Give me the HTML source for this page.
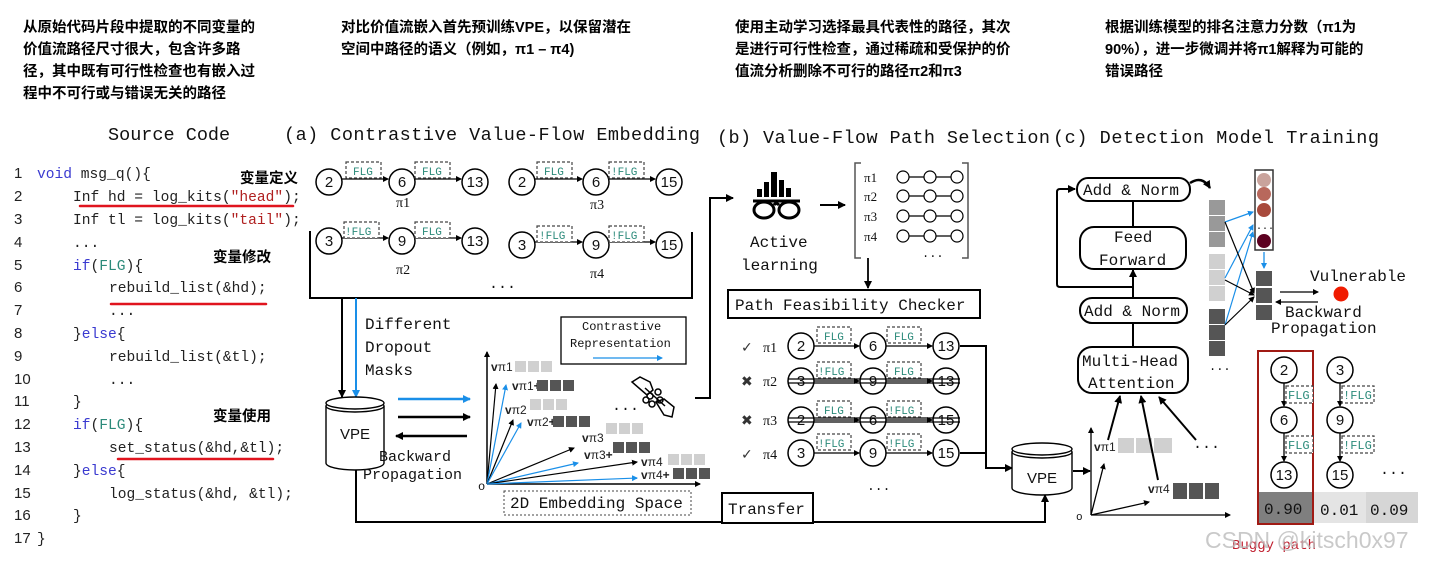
<!DOCTYPE html>
<html><head><meta charset="utf-8"><style>
html,body{margin:0;padding:0;background:#fff;}
svg{display:block;}
.cn{font-family:"Liberation Sans","Noto Sans CJK SC",sans-serif;font-size:14.5px;font-weight:bold;fill:#000;}
.mono{font-family:"Liberation Mono","DejaVu Sans Mono",monospace;}
.t{font-family:"Liberation Mono",monospace;font-size:18.5px;fill:#111;}
.code{font-family:"Liberation Mono",monospace;font-size:14.6px;fill:#222;}
.ln{font-family:"Liberation Sans",sans-serif;font-size:15px;fill:#222;}
.kw{fill:#3a3ad0;}
.str{fill:#b02020;}
.flg{fill:#2b8a7a;}
.n{font-family:"Liberation Sans",sans-serif;font-size:15px;text-anchor:middle;fill:#111;}
.lab{font-family:"Liberation Mono",monospace;font-size:15px;fill:#111;}
.fl{font-family:"Liberation Mono",monospace;font-size:11px;fill:#2b8a7a;}
.pi{font-family:"Liberation Serif",serif;font-size:14px;fill:#111;}
</style></head><body>
<svg width="1445" height="563" viewBox="0 0 1445 563" xmlns="http://www.w3.org/2000/svg">
<defs>
<marker id="a" markerWidth="8" markerHeight="8" refX="7" refY="4" orient="auto" markerUnits="userSpaceOnUse"><path d="M0,0L8,4L0,8z" fill="#000"/></marker>
<marker id="b" markerWidth="8" markerHeight="8" refX="7" refY="4" orient="auto" markerUnits="userSpaceOnUse"><path d="M0,0L8,4L0,8z" fill="#1a8fe8"/></marker>
<marker id="s" markerWidth="6" markerHeight="6" refX="5" refY="3" orient="auto" markerUnits="userSpaceOnUse"><path d="M0,0L6,3L0,6z" fill="#000"/></marker>
<marker id="sb" markerWidth="6" markerHeight="6" refX="5" refY="3" orient="auto" markerUnits="userSpaceOnUse"><path d="M0,0L6,3L0,6z" fill="#1a8fe8"/></marker>
</defs>

<g class="cn">
<text x="23" y="32">从原始代码片段中提取的不同变量的</text>
<text x="23" y="54">价值流路径尺寸很大，包含许多路</text>
<text x="23" y="76">径，其中既有可行性检查也有嵌入过</text>
<text x="23" y="98">程中不可行或与错误无关的路径</text>
<text x="341" y="32">对比价值流嵌入首先预训练VPE，以保留潜在</text>
<text x="341" y="54">空间中路径的语义（例如，π1 – π4)</text>
<text x="735" y="32">使用主动学习选择最具代表性的路径，其次</text>
<text x="735" y="54">是进行可行性检查，通过稀疏和受保护的价</text>
<text x="735" y="76">值流分析删除不可行的路径π2和π3</text>
<text x="1105" y="32">根据训练模型的排名注意力分数（π1为</text>
<text x="1105" y="54">90%），进一步微调并将π1解释为可能的</text>
<text x="1105" y="76">错误路径</text>
</g>

<text class="t" x="108" y="140">Source Code</text>
<text class="t" x="284" y="140" textLength="416">(a) Contrastive Value-Flow Embedding</text>
<text class="t" x="717" y="143" textLength="333">(b) Value-Flow Path Selection</text>
<text class="t" x="1053" y="143" textLength="326">(c) Detection Model Training</text>

<g class="ln">
<text x="14" y="178">1</text><text x="14" y="201">2</text><text x="14" y="224">3</text><text x="14" y="247">4</text>
<text x="14" y="270">5</text><text x="14" y="292">6</text><text x="14" y="315">7</text><text x="14" y="338">8</text>
<text x="14" y="361">9</text><text x="14" y="384">10</text><text x="14" y="406">11</text><text x="14" y="429">12</text>
<text x="14" y="452">13</text><text x="14" y="475">14</text><text x="14" y="498">15</text><text x="14" y="520">16</text><text x="14" y="543">17</text>
</g>
<g class="code">
<text x="37" y="178"><tspan class="kw">void</tspan> msg_q(){</text>
<text x="73" y="201">Inf hd = log_kits(<tspan class="str">"head"</tspan>);</text>
<text x="73" y="224">Inf tl = log_kits(<tspan class="str">"tail"</tspan>);</text>
<text x="73" y="247">...</text>
<text x="73" y="270"><tspan class="kw">if</tspan>(<tspan class="flg">FLG</tspan>){</text>
<text x="109" y="292">rebuild_list(&amp;hd);</text>
<text x="109" y="315">...</text>
<text x="73" y="338">}<tspan class="kw">else</tspan>{</text>
<text x="109" y="361">rebuild_list(&amp;tl);</text>
<text x="109" y="384">...</text>
<text x="73" y="406">}</text>
<text x="73" y="429"><tspan class="kw">if</tspan>(<tspan class="flg">FLG</tspan>){</text>
<text x="109" y="452">set_status(&amp;hd,&amp;tl);</text>
<text x="73" y="475">}<tspan class="kw">else</tspan>{</text>
<text x="109" y="498">log_status(&amp;hd, &amp;tl);</text>
<text x="73" y="520">}</text>
<text x="37" y="543">}</text>
</g>
<g stroke="#e0141e" stroke-width="2.5" stroke-linecap="round">
<line x1="80" y1="206" x2="293" y2="206"/>
<line x1="111" y1="304" x2="266" y2="304"/>
<line x1="118" y1="459" x2="273" y2="459"/>
</g>
<g class="cn">
<text x="240" y="183">变量定义</text>
<text x="213" y="262">变量修改</text>
<text x="213" y="421">变量使用</text>
</g>

<g fill="#fff" stroke="#000" stroke-width="1.5">
<circle cx="329" cy="182" r="13"/><circle cx="402" cy="182" r="13"/><circle cx="475" cy="182" r="13"/>
<circle cx="522" cy="182" r="13"/><circle cx="596" cy="182" r="13"/><circle cx="669" cy="182" r="13"/>
<circle cx="329" cy="241" r="13"/><circle cx="402" cy="241" r="13"/><circle cx="475" cy="241" r="13"/>
<circle cx="522" cy="245" r="13"/><circle cx="596" cy="245" r="13"/><circle cx="669" cy="245" r="13"/>
</g>
<g class="n">
<text x="329" y="187">2</text><text x="402" y="187">6</text><text x="475" y="187">13</text>
<text x="522" y="187">2</text><text x="596" y="187">6</text><text x="669" y="187">15</text>
<text x="329" y="246">3</text><text x="402" y="246">9</text><text x="475" y="246">13</text>
<text x="522" y="250">3</text><text x="596" y="250">9</text><text x="669" y="250">15</text>
</g>
<g stroke="#000" stroke-width="1.3" marker-end="url(#s)">
<line x1="342" y1="179" x2="388" y2="179"/><line x1="415" y1="179" x2="461" y2="179"/>
<line x1="535" y1="179" x2="582" y2="179"/><line x1="609" y1="179" x2="655" y2="179"/>
<line x1="342" y1="238" x2="388" y2="238"/><line x1="415" y1="238" x2="461" y2="238"/>
<line x1="535" y1="242" x2="582" y2="242"/><line x1="609" y1="242" x2="655" y2="242"/>
</g>
<g fill="#fff" stroke="#444" stroke-width="1.2" stroke-dasharray="3,2">
<rect x="346" y="162" width="35" height="16"/><rect x="415" y="162" width="35" height="16"/>
<rect x="537" y="162" width="35" height="16"/><rect x="609" y="162" width="35" height="16"/>
<rect x="344" y="222" width="35" height="16"/><rect x="415" y="222" width="35" height="16"/>
<rect x="537" y="226" width="35" height="16"/><rect x="609" y="226" width="35" height="16"/>
</g>
<g class="fl">
<text x="353" y="175">FLG</text><text x="422" y="175">FLG</text>
<text x="544" y="175">FLG</text><text x="611" y="175">!FLG</text>
<text x="345" y="235">!FLG</text><text x="422" y="235">FLG</text>
<text x="539" y="239">!FLG</text><text x="611" y="239">!FLG</text>
</g>
<g class="pi"><text x="396" y="207">π1</text><text x="590" y="209">π3</text><text x="396" y="274">π2</text><text x="590" y="278">π4</text></g>
<text x="489" y="288" class="lab">...</text>
<path d="M310,231V298H692V232" fill="none" stroke="#000" stroke-width="2"/>
<line x1="342" y1="298" x2="342" y2="397" stroke="#000" stroke-width="2" marker-end="url(#a)"/>
<line x1="356" y1="298" x2="356" y2="397" stroke="#1a8fe8" stroke-width="2" marker-end="url(#b)"/>
<g class="lab" style="font-size:16px"><text x="365" y="329">Different</text><text x="365" y="352">Dropout</text><text x="365" y="375">Masks</text></g>

<g fill="#fff" stroke="#000" stroke-width="1.4">
<path d="M326,406V463A29,7 0 0 0 384,463V406"/>
<ellipse cx="355" cy="406" rx="29" ry="6"/>
<ellipse cx="355" cy="403" rx="29" ry="6"/>
</g>
<text x="355" y="439" class="n">VPE</text>
<line x1="398" y1="399" x2="470" y2="399" stroke="#1a8fe8" stroke-width="2.5" marker-end="url(#b)"/>
<line x1="398" y1="417" x2="470" y2="417" stroke="#000" stroke-width="2.5" marker-end="url(#a)"/>
<line x1="467" y1="436" x2="396" y2="436" stroke="#000" stroke-width="2.5" marker-end="url(#a)"/>
<g class="lab"><text x="379" y="461">Backward</text><text x="363" y="479">Propagation</text></g>
<path d="M356,470V522H1045V495" fill="none" stroke="#000" stroke-width="2" marker-end="url(#a)"/>

<line x1="487" y1="484" x2="487" y2="352" stroke="#000" stroke-width="1.5" marker-end="url(#s)"/>
<line x1="487" y1="484" x2="700" y2="484" stroke="#000" stroke-width="1.5" marker-end="url(#s)"/>
<text x="478" y="490" class="lab" style="font-size:12px">o</text>
<g stroke-width="1.2">
<line x1="487" y1="484" x2="496" y2="384" stroke="#000" marker-end="url(#s)"/>
<line x1="487" y1="484" x2="506" y2="385" stroke="#1a8fe8" marker-end="url(#sb)"/>
<line x1="487" y1="484" x2="513" y2="420" stroke="#000" marker-end="url(#s)"/>
<line x1="487" y1="484" x2="521" y2="423" stroke="#1a8fe8" marker-end="url(#sb)"/>
<line x1="487" y1="484" x2="574" y2="448" stroke="#000" marker-end="url(#s)"/>
<line x1="487" y1="484" x2="578" y2="463" stroke="#1a8fe8" marker-end="url(#sb)"/>
<line x1="487" y1="484" x2="637" y2="462" stroke="#000" marker-end="url(#s)"/>
<line x1="487" y1="484" x2="637" y2="478" stroke="#1a8fe8" marker-end="url(#sb)"/>
</g>
<g font-family="Liberation Sans" font-size="12" font-weight="bold" fill="#222">
<text x="491" y="371">v<tspan font-weight="normal">π1</tspan></text>
<text x="512" y="390">v<tspan font-weight="normal">π1</tspan>+</text>
<text x="505" y="414">v<tspan font-weight="normal">π2</tspan></text>
<text x="527" y="426">v<tspan font-weight="normal">π2</tspan>+</text>
<text x="582" y="442">v<tspan font-weight="normal">π3</tspan></text>
<text x="584" y="459">v<tspan font-weight="normal">π3</tspan>+</text>
<text x="641" y="466">v<tspan font-weight="normal">π4</tspan></text>
<text x="641" y="479">v<tspan font-weight="normal">π4</tspan>+</text>
</g>
<g fill="#d0d0d0">
<rect x="515" y="361" width="11" height="11"/><rect x="528" y="361" width="11" height="11"/><rect x="541" y="361" width="11" height="11"/>
<rect x="530" y="399" width="11" height="11"/><rect x="543" y="399" width="11" height="11"/><rect x="556" y="399" width="11" height="11"/>
<rect x="606" y="423" width="11" height="11"/><rect x="619" y="423" width="11" height="11"/><rect x="632" y="423" width="11" height="11"/>
<rect x="668" y="454" width="11" height="11"/><rect x="681" y="454" width="11" height="11"/><rect x="694" y="454" width="11" height="11"/>
</g>
<g fill="#555">
<rect x="537" y="380" width="11" height="11"/><rect x="550" y="380" width="11" height="11"/><rect x="563" y="380" width="11" height="11"/>
<rect x="553" y="416" width="11" height="11"/><rect x="566" y="416" width="11" height="11"/><rect x="579" y="416" width="11" height="11"/>
<rect x="613" y="442" width="11" height="11"/><rect x="626" y="442" width="11" height="11"/><rect x="639" y="442" width="11" height="11"/>
<rect x="673" y="468" width="11" height="11"/><rect x="686" y="468" width="11" height="11"/><rect x="699" y="468" width="11" height="11"/>
</g>
<rect x="504" y="491" width="187" height="24" fill="none" stroke="#444" stroke-dasharray="2,2"/>
<text x="510" y="508" class="lab" style="font-size:16px">2D Embedding Space</text>
<rect x="561" y="317" width="125" height="47" fill="none" stroke="#000" stroke-width="1.3"/>
<g class="lab" style="font-size:12px"><text x="582" y="330">Contrastive</text><text x="570" y="347">Representation</text></g>
<line x1="593" y1="358" x2="662" y2="358" stroke="#1a8fe8" stroke-width="1.3" marker-end="url(#sb)"/>
<text x="612" y="410" class="lab">...</text>
<g fill="none" stroke="#000" stroke-width="1.5">
<path d="M632,382l8,-5l10,5l3,8l-6,5z"/><path d="M656,402l8,-3l10,8l-2,10l-8,-2z"/>
<line x1="645" y1="388" x2="665" y2="406"/>
<circle cx="650" cy="396" r="3"/><circle cx="658" cy="392" r="3"/><circle cx="660" cy="400" r="3"/><circle cx="652" cy="404" r="3"/><circle cx="646" cy="400" r="3"/>
</g>
<path d="M695,398H710V198H733" fill="none" stroke="#000" stroke-width="2" marker-end="url(#a)"/>

<g fill="#000">
<rect x="757" y="189" width="5" height="8"/><rect x="764" y="182" width="5" height="15"/><rect x="771" y="172" width="6" height="25"/><rect x="779" y="180" width="5" height="17"/><rect x="786" y="188" width="5" height="9"/>
</g>
<g fill="none" stroke="#000" stroke-width="3">
<ellipse cx="764" cy="210" rx="10" ry="8"/><ellipse cx="789" cy="210" rx="10" ry="8"/>
<path d="M753,201H800M774,205q2,-3 5,0"/>
</g>
<g class="lab" style="font-size:16px"><text x="750" y="247">Active</text><text x="741" y="270">learning</text></g>
<line x1="820" y1="205" x2="845" y2="205" stroke="#000" stroke-width="2" marker-end="url(#a)"/>
<path d="M861,163H855V258H861M962,163H968V258H962" fill="none" stroke="#555" stroke-width="1.5"/>
<g class="pi" style="font-size:13px"><text x="864" y="182">π1</text><text x="864" y="201">π2</text><text x="864" y="221">π3</text><text x="864" y="241">π4</text></g>
<g fill="#fff" stroke="#000" stroke-width="1.2">
<line x1="903" y1="177" x2="960" y2="177"/><line x1="903" y1="196" x2="960" y2="196"/><line x1="903" y1="216" x2="960" y2="216"/><line x1="903" y1="236" x2="960" y2="236"/>
<circle cx="903" cy="177" r="6"/><circle cx="930" cy="177" r="6"/><circle cx="957" cy="177" r="6"/>
<circle cx="903" cy="196" r="6"/><circle cx="930" cy="196" r="6"/><circle cx="957" cy="196" r="6"/>
<circle cx="903" cy="216" r="6"/><circle cx="930" cy="216" r="6"/><circle cx="957" cy="216" r="6"/>
<circle cx="903" cy="236" r="6"/><circle cx="930" cy="236" r="6"/><circle cx="957" cy="236" r="6"/>
</g>
<text x="922" y="257" class="lab" style="font-size:12px">...</text>
<line x1="868" y1="258" x2="868" y2="288" stroke="#000" stroke-width="1.8" marker-end="url(#a)"/>
<rect x="728" y="290" width="252" height="28" fill="#fff" stroke="#000" stroke-width="2"/>
<text x="735" y="310" class="lab" style="font-size:16px">Path Feasibility Checker</text>

<g fill="#fff" stroke="#000" stroke-width="1.5">
<circle cx="801" cy="346" r="13"/><circle cx="873" cy="346" r="13"/><circle cx="946" cy="346" r="13"/>
<circle cx="801" cy="381" r="13"/><circle cx="873" cy="381" r="13"/><circle cx="946" cy="381" r="13"/>
<circle cx="801" cy="420" r="13"/><circle cx="873" cy="420" r="13"/><circle cx="946" cy="420" r="13"/>
<circle cx="801" cy="453" r="13"/><circle cx="873" cy="453" r="13"/><circle cx="946" cy="453" r="13"/>
</g>
<g class="n">
<text x="801" y="351">2</text><text x="873" y="351">6</text><text x="946" y="351">13</text>
<text x="801" y="386">3</text><text x="873" y="386">9</text><text x="946" y="386">13</text>
<text x="801" y="425">2</text><text x="873" y="425">6</text><text x="946" y="425">15</text>
<text x="801" y="458">3</text><text x="873" y="458">9</text><text x="946" y="458">15</text>
</g>
<g stroke="#000" stroke-width="1.3" marker-end="url(#s)">
<line x1="814" y1="346" x2="859" y2="346"/><line x1="886" y1="346" x2="932" y2="346"/>
<line x1="814" y1="381" x2="859" y2="381"/><line x1="886" y1="381" x2="932" y2="381"/>
<line x1="814" y1="420" x2="859" y2="420"/><line x1="886" y1="420" x2="932" y2="420"/>
<line x1="814" y1="453" x2="859" y2="453"/><line x1="886" y1="453" x2="932" y2="453"/>
</g>
<g stroke="#000" stroke-width="1.2">
<line x1="788" y1="379" x2="960" y2="379"/><line x1="788" y1="383" x2="960" y2="383"/>
<line x1="788" y1="418" x2="960" y2="418"/><line x1="788" y1="422" x2="960" y2="422"/>
</g>
<g fill="#fff" stroke="#444" stroke-width="1.2" stroke-dasharray="3,2">
<rect x="817" y="327" width="34" height="16"/><rect x="887" y="327" width="34" height="16"/>
<rect x="817" y="362" width="34" height="16"/><rect x="887" y="362" width="34" height="16"/>
<rect x="817" y="401" width="34" height="16"/><rect x="887" y="401" width="34" height="16"/>
<rect x="817" y="434" width="34" height="16"/><rect x="887" y="434" width="34" height="16"/>
</g>
<g class="fl">
<text x="824" y="340">FLG</text><text x="894" y="340">FLG</text>
<text x="818" y="375">!FLG</text><text x="894" y="375">FLG</text>
<text x="824" y="414">FLG</text><text x="888" y="414">!FLG</text>
<text x="818" y="447">!FLG</text><text x="888" y="447">!FLG</text>
</g>
<g font-family="DejaVu Sans" font-size="14" fill="#333">
<text x="741" y="352">✓</text><text x="741" y="386">✖</text><text x="741" y="425">✖</text><text x="741" y="459">✓</text>
</g>
<g class="pi"><text x="763" y="352">π1</text><text x="763" y="386">π2</text><text x="763" y="425">π3</text><text x="763" y="459">π4</text></g>
<text x="867" y="490" class="lab" style="font-size:13px">...</text>
<path d="M960,346H986V468H1010M960,453H986" fill="none" stroke="#000" stroke-width="2"/>
<line x1="986" y1="468" x2="1012" y2="468" stroke="#000" stroke-width="2" marker-end="url(#a)"/>
<rect x="722" y="493" width="91" height="30" fill="#fff" stroke="#000" stroke-width="2"/>
<text x="728" y="514" class="lab" style="font-size:16px">Transfer</text>

<g fill="#fff" stroke="#000" stroke-width="1.4">
<path d="M1012,452V488A30,7 0 0 0 1072,488V452"/>
<ellipse cx="1042" cy="452" rx="30" ry="6"/>
<ellipse cx="1042" cy="449" rx="30" ry="6"/>
</g>
<text x="1042" y="483" class="n">VPE</text>
<line x1="1073" y1="471" x2="1090" y2="471" stroke="#000" stroke-width="2" marker-end="url(#a)"/>

<line x1="1091" y1="515" x2="1091" y2="428" stroke="#000" stroke-width="1.3" marker-end="url(#s)"/>
<line x1="1091" y1="515" x2="1230" y2="515" stroke="#000" stroke-width="1.3" marker-end="url(#s)"/>
<text x="1076" y="520" class="lab" style="font-size:11px">o</text>
<line x1="1091" y1="515" x2="1104" y2="464" stroke="#000" stroke-width="1.3" marker-end="url(#s)"/>
<line x1="1091" y1="515" x2="1149" y2="502" stroke="#000" stroke-width="1.3" marker-end="url(#s)"/>
<g font-family="Liberation Sans" font-size="12" font-weight="bold" fill="#222">
<text x="1094" y="451">v<tspan font-weight="normal">π1</tspan></text>
<text x="1148" y="493">v<tspan font-weight="normal">π4</tspan></text>
</g>
<g fill="#d0d0d0"><rect x="1118" y="438" width="16" height="15"/><rect x="1136" y="438" width="16" height="15"/><rect x="1154" y="438" width="18" height="15"/></g>
<g fill="#555"><rect x="1173" y="483" width="14" height="16"/><rect x="1189" y="483" width="14" height="16"/><rect x="1205" y="483" width="14" height="16"/></g>
<g stroke="#000" stroke-width="2" marker-end="url(#a)">
<line x1="1108" y1="440" x2="1120" y2="396"/>
<line x1="1158" y1="480" x2="1141" y2="396"/>
<line x1="1196" y1="440" x2="1159" y2="397"/>
</g>
<text x="1193" y="448" class="lab">...</text>
<rect x="1078" y="347" width="110" height="46" rx="14" fill="#fff" stroke="#000" stroke-width="2"/>
<g class="lab" style="font-size:16px"><text x="1082" y="366">Multi-Head</text><text x="1088" y="388">Attention</text></g>
<line x1="1133" y1="347" x2="1133" y2="323" stroke="#000" stroke-width="2"/>
<rect x="1080" y="298" width="107" height="25" rx="12" fill="#fff" stroke="#000" stroke-width="2"/>
<text x="1084" y="316" class="lab" style="font-size:16px">Add &amp; Norm</text>
<line x1="1133" y1="298" x2="1133" y2="270" stroke="#000" stroke-width="2" marker-end="url(#a)"/>
<path d="M1133,287H1060Q1057,287 1057,284V192Q1057,189 1060,189H1075" fill="none" stroke="#000" stroke-width="2" marker-end="url(#a)"/>
<rect x="1080" y="227" width="106" height="42" rx="14" fill="#fff" stroke="#000" stroke-width="2"/>
<g class="lab" style="font-size:16px"><text x="1114" y="242">Feed</text><text x="1099" y="265">Forward</text></g>
<line x1="1133" y1="227" x2="1133" y2="201" stroke="#000" stroke-width="2"/>
<rect x="1077" y="178" width="113" height="23" rx="11" fill="#fff" stroke="#000" stroke-width="2"/>
<text x="1083" y="195" class="lab" style="font-size:16px">Add &amp; Norm</text>
<path d="M1190,183Q1202,175 1210,188" fill="none" stroke="#000" stroke-width="2.5" marker-end="url(#a)"/>

<g fill="#999"><rect x="1209" y="200" width="16" height="15"/><rect x="1209" y="216" width="16" height="15"/><rect x="1209" y="232" width="16" height="15"/></g>
<g fill="#d0d0d0"><rect x="1209" y="254" width="16" height="15"/><rect x="1209" y="270" width="16" height="15"/><rect x="1209" y="286" width="16" height="15"/></g>
<g fill="#555"><rect x="1209" y="309" width="16" height="15"/><rect x="1209" y="325" width="16" height="15"/><rect x="1209" y="341" width="16" height="15"/></g>
<text x="1209" y="370" class="lab" style="font-size:12px">...</text>
<rect x="1255" y="170" width="18" height="80" fill="#fff" stroke="#333" stroke-width="1.5"/>
<circle cx="1264" cy="180" r="7" fill="#c9a39c"/><circle cx="1264" cy="194" r="7" fill="#b8685c"/><circle cx="1264" cy="210" r="7" fill="#a84a3c"/>
<text x="1256" y="229" class="lab" style="font-size:10px">...</text>
<circle cx="1264" cy="241" r="7" fill="#5c0020"/>
<g fill="#555"><rect x="1256" y="271" width="16" height="15"/><rect x="1256" y="288" width="16" height="15"/><rect x="1256" y="305" width="16" height="15"/></g>
<line x1="1264" y1="252" x2="1264" y2="268" stroke="#1a8fe8" stroke-width="1.3" marker-end="url(#sb)"/>
<g stroke="#1a8fe8" stroke-width="1.2" marker-end="url(#sb)">
<line x1="1225" y1="222" x2="1253" y2="212"/>
<line x1="1225" y1="278" x2="1253" y2="225"/>
<line x1="1225" y1="325" x2="1253" y2="232"/>
</g>
<g stroke="#000" stroke-width="1.2" marker-end="url(#s)">
<line x1="1225" y1="222" x2="1254" y2="293"/>
<line x1="1225" y1="280" x2="1254" y2="295"/>
<line x1="1225" y1="325" x2="1254" y2="297"/>
</g>
<line x1="1280" y1="292" x2="1318" y2="292" stroke="#000" stroke-width="1.2" marker-end="url(#s)"/>
<line x1="1318" y1="302" x2="1276" y2="302" stroke="#000" stroke-width="1.2" marker-end="url(#s)"/>
<circle cx="1341" cy="294" r="7.5" fill="#f01b00"/>
<text x="1310" y="281" class="lab" style="font-size:16px">Vulnerable</text>
<g class="lab" style="font-size:16px"><text x="1285" y="317">Backward</text><text x="1271" y="333">Propagation</text></g>

<rect x="1259" y="492" width="53" height="31" fill="#7f7f7f"/>
<rect x="1314" y="492" width="52" height="31" fill="#e4e4e4"/>
<rect x="1366" y="492" width="52" height="31" fill="#d6d6d6"/>
<g class="lab" style="font-size:16px"><text x="1264" y="514">0.90</text><text x="1320" y="515">0.01</text><text x="1370" y="515">0.09</text></g>
<rect x="1258" y="351" width="55" height="173" fill="none" stroke="#a01a14" stroke-width="2"/>
<g fill="#fff" stroke="#000" stroke-width="1.5">
<circle cx="1284" cy="370" r="13"/><circle cx="1284" cy="420" r="13"/><circle cx="1284" cy="475" r="13"/>
<circle cx="1340" cy="370" r="13"/><circle cx="1340" cy="420" r="13"/><circle cx="1340" cy="475" r="13"/>
</g>
<g class="n">
<text x="1284" y="375">2</text><text x="1284" y="425">6</text><text x="1284" y="480">13</text>
<text x="1340" y="375">3</text><text x="1340" y="425">9</text><text x="1340" y="480">15</text>
</g>
<g stroke="#000" stroke-width="1.3" marker-end="url(#s)">
<line x1="1284" y1="383" x2="1284" y2="406"/><line x1="1284" y1="433" x2="1284" y2="461"/>
<line x1="1340" y1="383" x2="1340" y2="406"/><line x1="1340" y1="433" x2="1340" y2="461"/>
</g>
<g fill="#fff" stroke="#444" stroke-width="1.2" stroke-dasharray="3,2">
<rect x="1286" y="386" width="27" height="17"/><rect x="1286" y="436" width="27" height="17"/>
<rect x="1342" y="386" width="32" height="17"/><rect x="1342" y="436" width="32" height="17"/>
</g>
<g class="fl" style="font-size:12px">
<text x="1288" y="399">FLG</text><text x="1288" y="449">FLG</text>
<text x="1343" y="399">!FLG</text><text x="1343" y="449">!FLG</text>
</g>
<text x="1380" y="474" class="lab">...</text>
<text x="1232" y="549" class="lab" style="font-size:14px;fill:#c02030">Buggy path</text>
<text x="1205" y="548" font-family="Liberation Sans" font-size="23" fill="#bbb" fill-opacity="0.8">CSDN @kitsch0x97</text>
</svg>
</body></html>
